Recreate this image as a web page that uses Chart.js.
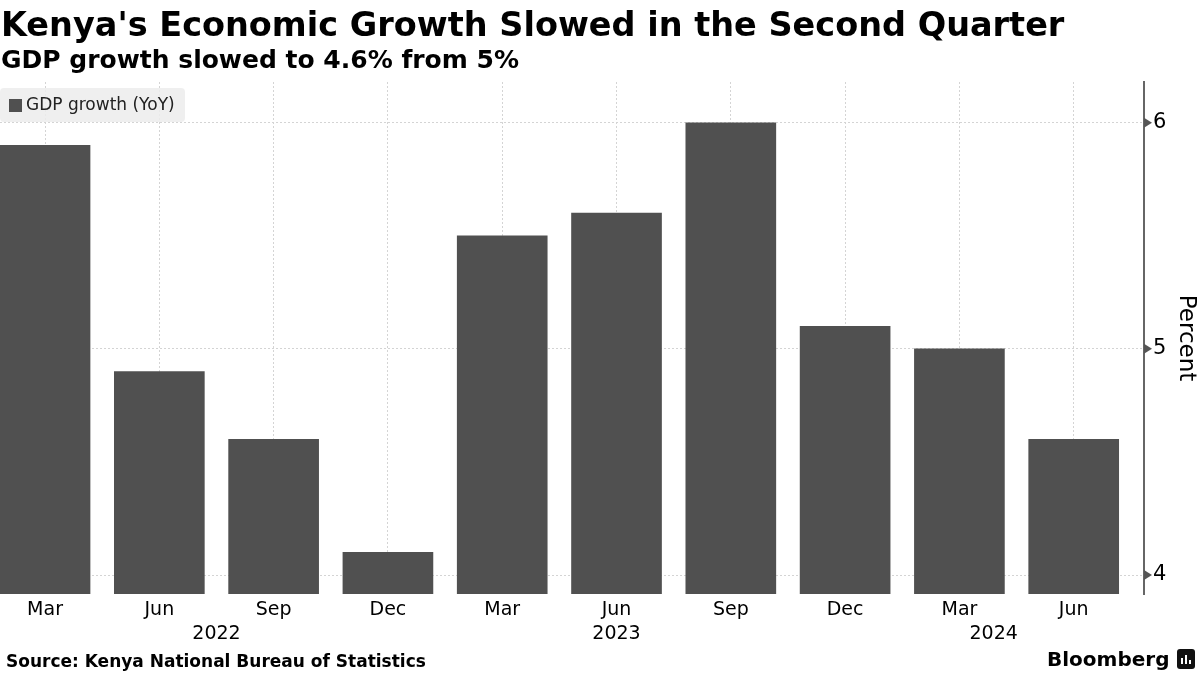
<!DOCTYPE html>
<html>
<head>
<meta charset="utf-8">
<script src="https://cdn.jsdelivr.net/npm/chart.js@4.4.1/dist/chart.umd.min.js"></script>
<style>
  body { margin: 0; background: #fff; font-family: "DejaVu Sans", sans-serif; }
  #wrap { position: relative; width: 1200px; height: 675px; overflow: hidden; }
  #c { position: absolute; left: 0; top: 0; }
  .txt { position: absolute; white-space: nowrap; color: #000; }
  #legend { position: absolute; left: 0; top: 88px; width: 185px; height: 34px; background: rgba(236,236,236,0.85); border-radius: 4px; }
  #legend .sw { position: absolute; left: 9px; top: 11px; width: 13px; height: 13px; background: #505050; }
  #legend .lb { position: absolute; left: 26px; top: 6px; font-size: 17px; color: #222; }
  #logo { position: absolute; left: 1177px; top: 649px; width: 18px; height: 20px; background: #111; border-radius: 3px; }
  #logo span { position: absolute; bottom: 5px; width: 2px; background: #fff; }
</style>
</head>
<body>
<div id="wrap">
  <canvas id="c" width="1200" height="675"></canvas>
  <div class="txt" style="left:1px;top:5px;font-size:33.5px;font-weight:bold;">Kenya's Economic Growth Slowed in the Second Quarter</div>
  <div class="txt" style="left:1px;top:45px;font-size:25px;font-weight:bold;">GDP growth slowed to 4.6% from 5%</div>
  <div id="legend"><div class="sw"></div><div class="txt lb">GDP growth (YoY)</div></div>
  <div class="txt" style="left:6px;top:651px;font-size:17px;font-weight:bold;">Source: Kenya National Bureau of Statistics</div>
  <div class="txt" style="left:1047px;top:647px;font-size:20px;font-weight:bold;">Bloomberg</div>
  <div id="logo"><span style="left:4px;height:6px"></span><span style="left:8px;height:9px"></span><span style="left:12px;height:4px"></span></div>
</div>
<script>
// quarter labels and values (GDP growth, YoY %)
const months = ['Mar', 'Jun', 'Sep', 'Dec', 'Mar', 'Jun', 'Sep', 'Dec', 'Mar', 'Jun'];
const growth = [5.9, 4.9, 4.6, 4.1, 5.5, 5.6, 6.0, 5.1, 5.0, 4.6];
const years = ['2022', '2023', '2024'];
const yearPos = [1.5, 5, 8.3];
const yTicks = [4, 5, 6];

const gridColor = '#d4d4d4';

// year row under the months + small arrow ticks on the right axis
const extras = {
  id: 'extras',
  afterDraw(chart) {
    const ctx = chart.ctx;
    const xs = chart.scales.x;
    const ys = chart.scales.y;
    ctx.save();
    ctx.fillStyle = '#000';
    ctx.font = '19px "DejaVu Sans"';
    ctx.textAlign = 'center';
    ctx.textBaseline = 'middle';
    years.forEach((y, i) => ctx.fillText(y, xs.getPixelForValue(yearPos[i]), 634));
    ctx.fillStyle = '#555';
    const ax = chart.chartArea.right;
    yTicks.forEach(t => {
      const py = ys.getPixelForValue(t);
      ctx.beginPath();
      ctx.moveTo(ax, py - 5);
      ctx.lineTo(ax + 8, py);
      ctx.lineTo(ax, py + 5);
      ctx.closePath();
      ctx.fill();
    });
    ctx.restore();
  }
};

new Chart(document.getElementById('c').getContext('2d'), {
  type: 'bar',
  data: {
    datasets: [{
      label: 'GDP growth (YoY)',
      data: growth.map((v, i) => ({ x: i, y: v })),
      backgroundColor: '#505050',
      barThickness: 90
    }]
  },
  options: {
    responsive: false,
    animation: false,
    layout: { padding: { top: 82, left: 0, right: 0, bottom: 0 } },
    plugins: { legend: { display: false }, tooltip: { enabled: false } },
    scales: {
      x: {
        type: 'linear',
        offset: false,
        min: -0.394,
        max: 9.615,
        afterBuildTicks: s => { s.ticks = months.map((m, i) => ({ value: i })); },
        afterFit: s => { s.height = 81; },
        ticks: {
          autoSkip: false,
          maxRotation: 0,
          padding: 5,
          color: '#000',
          font: { family: 'DejaVu Sans', size: 19 },
          callback: v => months[v]
        },
        grid: { color: gridColor, drawTicks: false, offset: false },
        border: { display: false, dash: [2, 2] }
      },
      y: {
        position: 'right',
        min: 3.916,
        max: 6.18,
        afterBuildTicks: s => { s.ticks = yTicks.map(v => ({ value: v })); },
        afterFit: s => { s.width = 56; },
        ticks: {
          padding: 9,
          color: '#000',
          font: { family: 'DejaVu Sans', size: 21 }
        },
        title: {
          display: true,
          text: 'Percent',
          color: '#000',
          padding: { top: 0, bottom: 4 },
          font: { family: 'DejaVu Sans', size: 23 }
        },
        grid: { color: gridColor, drawTicks: false },
        border: { display: true, color: '#666', width: 2, dash: [2, 2] }
      }
    }
  },
  plugins: [extras]
});
</script>
</body>
</html>
